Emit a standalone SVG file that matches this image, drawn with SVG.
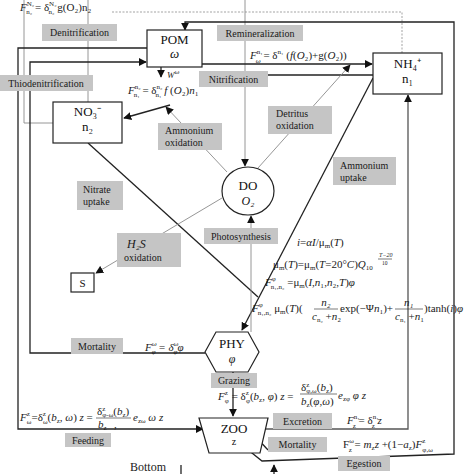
<svg xmlns="http://www.w3.org/2000/svg" width="474" height="474" viewBox="0 0 474 474">
<style>
.bg{fill:#fff}
.lb{fill:#c5c5c5}
.l{font-family:"Liberation Serif",serif;font-size:10px;fill:#1a1a1a}
.lc{text-anchor:middle}
.f{font-family:"Liberation Serif",serif;font-size:11px;fill:#1a1a1a}
.i{font-style:italic}
.sm{font-size:7px}
.n{font-family:"Liberation Serif",serif;font-size:13px;text-anchor:middle;fill:#111}
.box{fill:#fff;stroke:#222;stroke-width:1.2}
.k{fill:none;stroke:#222;stroke-width:1.3}
.k2{fill:none;stroke:#555;stroke-width:1.3}
.g{fill:none;stroke:#8a8a8a;stroke-width:0.9}
.d{fill:none;stroke:#999;stroke-width:0.9;stroke-dasharray:2 1.5}
.fl{stroke:#222;stroke-width:0.6}
</style>
<defs>
<marker id="ar" viewBox="0 0 10 10" refX="9" refY="5" markerUnits="userSpaceOnUse" markerWidth="8" markerHeight="8" orient="auto"><path d="M0,0 L10,5 L0,10 z" fill="#111"/></marker>
</defs>
<rect class="bg" x="0" y="0" width="474" height="474"/>

<g id="connectors">
<path class="g" d="M24,0 L24,123 L53,123"/>
<path class="g" d="M88,0 L88,102"/>
<path class="d" d="M112,12 L402,12 L402,53"/>
<path class="g" d="M245,0 L245,166" marker-end="url(#ar)"/>
<path class="k" d="M247,449 L262,461 L454,454 L454,22 L185,22 L185,30" marker-end="url(#ar)"/>
<path class="k" d="M255,436 L268,450"/>
<path class="k2" d="M265,429 L408,429 L408,95" marker-end="url(#ar)"/>
<path class="k" d="M147,48 L18,48 L18,429 L203,429" marker-end="url(#ar)"/>
<path class="k" d="M205,353 L30,353 L30,62 L146,62" marker-end="url(#ar)"/>
<path class="k" d="M233,372 L233,416" marker-end="url(#ar)"/>
<path class="k" d="M202,64 L372,64" marker-end="url(#ar)"/>
<path class="k" d="M373,75 L268,75"/>
<path class="k" d="M170,105 L124,118" marker-end="url(#ar)"/>
<path class="k" d="M161,67 L161,77" marker-end="url(#ar)"/>
<path class="k" d="M88,143 L258,297"/>
<path class="k" d="M373,78 L242,330" marker-end="url(#ar)"/>
<path class="g" d="M251,332 L251,216" marker-end="url(#ar)"/>
<path class="g" d="M227,172 L166,107" marker-end="url(#ar)"/>
<path class="g" d="M258,168 L350,65" marker-end="url(#ar)"/>
<path class="g" d="M222,198 L96,273" marker-end="url(#ar)"/>
<path class="k" d="M181,465 L181,474"/>
<path class="k" d="M274,474 L274,465" marker-end="url(#ar)"/>
</g>

<g id="labels">
<rect class="lb" x="42" y="24" width="75" height="17"/><text class="l lc" x="79.5" y="36">Denitrification</text>
<rect class="lb" x="0" y="75" width="93" height="16"/><text class="l lc" x="46" y="87">Thiodenitrification</text>
<rect class="lb" x="217" y="25" width="86" height="16"/><text class="l lc" x="260" y="37">Remineralization</text>
<rect class="lb" x="199" y="71" width="69" height="16"/><text class="l lc" x="233.5" y="83">Nitrification</text>
<rect class="lb" x="158" y="123" width="64" height="27"/><text class="l" x="165" y="134">Ammonium</text><text class="l" x="165" y="146">oxidation</text>
<rect class="lb" x="268" y="106" width="64" height="28"/><text class="l" x="276" y="117">Detritus</text><text class="l" x="276" y="129">oxidation</text>
<rect class="lb" x="77" y="181" width="46" height="29"/><text class="l" x="83" y="193">Nitrate</text><text class="l" x="83" y="205">uptake</text>
<rect class="lb" x="333" y="157" width="63" height="28"/><text class="l" x="340" y="169">Ammonium</text><text class="l" x="340" y="181">uptake</text>
<rect class="lb" x="117" y="233" width="64" height="34"/><text class="f i" x="127" y="248" style="font-size:12px">H₂S</text><text class="l" x="124" y="261">oxidation</text>
<rect class="lb" x="204" y="228" width="74" height="16"/><text class="l lc" x="241" y="240">Photosynthesis</text>
<rect class="lb" x="71" y="338" width="52" height="16"/><text class="l lc" x="97" y="350">Mortality</text>
<rect class="lb" x="211" y="373" width="46" height="15"/><text class="l lc" x="234" y="384">Grazing</text>
<rect class="lb" x="65" y="433" width="46" height="14"/><text class="l lc" x="88" y="444">Feeding</text>
<rect class="lb" x="273" y="413" width="59" height="16"/><text class="l lc" x="302.5" y="425">Excretion</text>
<rect class="lb" x="268" y="437" width="59" height="15"/><text class="l lc" x="297.5" y="448">Mortality</text>
<rect class="lb" x="338" y="456" width="52" height="15"/><text class="l lc" x="364" y="467">Egestion</text>
</g>

<g id="node-pom"><rect class="box" x="147" y="30" width="55" height="37"/><text class="n" x="174.5" y="44">POM</text><text class="n i" x="174.5" y="58">ω</text></g>
<g id="node-nh4"><rect class="box" x="373" y="53" width="69" height="41"/><text class="n" x="407.5" y="68">NH₄⁺</text><text class="n" x="407.5" y="83">n₁</text></g>
<g id="node-no3"><rect class="box" x="53" y="102" width="69" height="41"/><text class="n" x="87.5" y="116">NO₃⁻</text><text class="n" x="87.5" y="131">n₂</text></g>
<g id="node-do"><ellipse class="box" cx="248" cy="191" rx="26" ry="24"/><text class="n" x="248" y="190">DO</text><text class="n i" x="248" y="205" style="font-size:12px">O₂</text></g>
<g id="node-s"><rect class="box" x="71" y="273" width="23" height="19"/><text class="n" x="82.5" y="287" style="font-size:11px">S</text></g>
<g id="node-phy"><polygon class="box" points="205,352 216,332 248,332 259,352 248,372 216,372"/><text class="n" x="232" y="348">PHY</text><text class="n i" x="232" y="363" style="font-size:12px">φ</text></g>
<g id="node-zoo"><polygon class="box" points="199,418 268,418 260,453 209,453"/><text class="n" x="234" y="433">ZOO</text><text class="n" x="234" y="445" style="font-size:10px">z</text></g>

<g id="formulas">
<text class="f" x="20" y="11"><tspan class="i">F</tspan><tspan class="sm" dy="-5">N₂</tspan><tspan class="sm" dx="-8" dy="8">n₂</tspan><tspan dy="-3"> = δ</tspan><tspan class="sm" dy="-5">N₂</tspan><tspan class="sm" dx="-8" dy="8">n₂</tspan><tspan dy="-3"> g(O₂)n₂</tspan></text>
<text class="f" x="250" y="59"><tspan class="i">F</tspan><tspan class="sm" dy="-5">n₁</tspan><tspan class="sm i" dx="-7" dy="8.5">ω</tspan><tspan dy="-3.5"> = δ</tspan><tspan class="sm" dy="-5">n₁</tspan><tspan dy="5"> (<tspan class="i">f</tspan>(<tspan class="i">O</tspan>₂)+g(<tspan class="i">O</tspan>₂))</tspan></text>
<text class="f" x="128" y="94"><tspan class="i">F</tspan><tspan class="sm" dy="-5">n₂</tspan><tspan class="sm" dx="-7" dy="8">n₁</tspan><tspan dy="-3"> = δ</tspan><tspan class="sm" dy="-5">n₂</tspan><tspan class="sm" dx="-7" dy="8">n₁</tspan><tspan dy="-3">  <tspan class="i">f</tspan> (<tspan class="i">O</tspan>₂)<tspan class="i">n</tspan>₁</tspan></text>
<text class="f i" x="167" y="78" style="font-size:9px">W<tspan class="sm" dy="-4">ω</tspan></text>
<text class="f i" x="145" y="351"><tspan>F</tspan><tspan class="sm" dy="-5">ω</tspan><tspan class="sm" dx="-5" dy="8">φ</tspan><tspan dy="-3"> = δ</tspan><tspan class="sm" dy="-5">ω</tspan><tspan class="sm" dx="-5" dy="8">φ</tspan><tspan dy="-3">φ</tspan></text>

<text class="f" x="297" y="246"><tspan class="i">i</tspan>=<tspan class="i">αI</tspan>/μ<tspan class="sm" dy="2">m</tspan><tspan dy="-2">(<tspan class="i">T</tspan>)</tspan></text>
<text class="f" x="273" y="268">μ<tspan class="sm" dy="2">m</tspan><tspan dy="-2">(<tspan class="i">T</tspan>)=μ</tspan><tspan class="sm" dy="2">m</tspan><tspan dy="-2">(<tspan class="i">T</tspan>=20°<tspan class="i">C</tspan>)<tspan class="i">Q</tspan></tspan><tspan class="sm" dy="2">10</tspan></text>
<text class="f i" x="379" y="257" style="font-size:6px">T−20</text>
<line class="fl" x1="378" y1="259" x2="392" y2="259"/>
<text class="f" x="382" y="264.5" style="font-size:5.5px">10</text>
<text class="f" x="265" y="286"><tspan class="i">F</tspan><tspan class="sm" dy="-5">φ</tspan><tspan class="sm" dx="-5" dy="8">n₁,n₂</tspan><tspan dy="-3"> =μ</tspan><tspan class="sm" dy="2">m</tspan><tspan dy="-2">(<tspan class="i">I</tspan>,<tspan class="i">n</tspan>₁,<tspan class="i">n</tspan>₂,<tspan class="i">T</tspan>)<tspan class="i">φ</tspan></tspan></text>
<text class="f" x="252" y="312"><tspan class="i">F</tspan><tspan class="sm" dy="-5">φ</tspan><tspan class="sm" dx="-5" dy="8">n₁,n₂</tspan><tspan dy="-3">  μ</tspan><tspan class="sm" dy="2">m</tspan><tspan dy="-2">(<tspan class="i">T</tspan>)(</tspan></text>
<text class="f i lc" x="326" y="306">n₂</text>
<line class="fl" x1="314" y1="309" x2="338" y2="309"/>
<text class="f" x="312" y="320"><tspan class="i">c</tspan><tspan class="sm" dy="2">n₂</tspan><tspan dy="-2"> +<tspan class="i">n</tspan>₂</tspan></text>
<text class="f" x="340" y="312">exp(−Ψ<tspan class="i">n</tspan>₁)+</text>
<text class="f i" x="404" y="306">n₁</text>
<line class="fl" x1="395" y1="309" x2="423" y2="309"/>
<text class="f" x="395" y="320"><tspan class="i">c</tspan><tspan class="sm" dy="2">n₁</tspan><tspan dy="-2"> +<tspan class="i">n</tspan>₁</tspan></text>
<text class="f" x="424" y="312">)tanh(<tspan class="i">i</tspan>)<tspan class="i">φ</tspan></text>

<text class="f" x="218" y="400"><tspan class="i">F</tspan><tspan class="sm" dy="-5">z</tspan><tspan class="sm" dx="-3" dy="8">φ</tspan><tspan dy="-3"> = δ</tspan><tspan class="sm" dy="-5">z</tspan><tspan class="sm" dx="-3" dy="8">φ</tspan><tspan dy="-3">(<tspan class="i">b</tspan></tspan><tspan class="sm" dy="2">z</tspan><tspan dy="-2">, <tspan class="i">φ</tspan>) <tspan class="i">z</tspan> =</tspan></text>
<text class="f" x="301" y="391">δ<tspan class="sm" dy="-4">z</tspan><tspan class="sm" dx="-3" dy="6">φ,ω</tspan><tspan dy="-2">(<tspan class="i">b</tspan></tspan><tspan class="sm" dy="2">z</tspan><tspan dy="-2">)</tspan></text>
<line class="fl" x1="300" y1="394" x2="337" y2="394"/>
<text class="f" x="301" y="405"><tspan class="i">b</tspan><tspan class="sm" dy="2">z</tspan><tspan dy="-2">(<tspan class="i">φ</tspan>,<tspan class="i">ω</tspan>)</tspan></text>
<text class="f" x="338" y="399"><tspan class="i">e</tspan><tspan class="sm" dy="2">zφ</tspan><tspan dy="-2"> <tspan class="i">φ z</tspan></tspan></text>

<text class="f" x="20" y="421"><tspan class="i">F</tspan><tspan class="sm" dy="-5">z</tspan><tspan class="sm" dx="-3" dy="8">ω</tspan><tspan dy="-3">=δ</tspan><tspan class="sm" dy="-5">z</tspan><tspan class="sm" dx="-3" dy="8">ω</tspan><tspan dy="-3">(<tspan class="i">b</tspan></tspan><tspan class="sm" dy="2">z</tspan><tspan dy="-2">, <tspan class="i">ω</tspan>) <tspan class="i">z</tspan> =</tspan></text>
<text class="f" x="97" y="415">δ<tspan class="sm" dy="-4">z</tspan><tspan class="sm" dx="-3" dy="6">φ-ω</tspan><tspan dy="-2">(<tspan class="i">b</tspan></tspan><tspan class="sm" dy="2">z</tspan><tspan dy="-2">)</tspan></text>
<line class="fl" x1="96" y1="418" x2="131" y2="418"/>
<text class="f" x="98" y="428"><tspan class="i">b</tspan><tspan class="sm" dy="2">z</tspan></text>
<text class="f" x="114" y="428">,</text>
<text class="f" x="133" y="421"><tspan class="i">e</tspan><tspan class="sm" dy="2">zω</tspan><tspan dy="-2"> <tspan class="i">ω z</tspan></tspan></text>

<text class="f" x="347" y="424"><tspan class="i">F</tspan><tspan class="sm" dy="-5">n₁</tspan><tspan class="sm" dx="-7" dy="8.5">z</tspan><tspan dy="-3.5">   = δ</tspan><tspan class="sm" dy="-5">n₁</tspan><tspan class="sm" dx="-7" dy="8.5">z</tspan><tspan dy="-3.5">    <tspan class="i">z</tspan></tspan></text>
<text class="f" x="343" y="448">F<tspan class="sm" dy="-5">ω</tspan><tspan class="sm" dx="-5" dy="8.5">z</tspan><tspan dy="-3.5"> = <tspan class="i">m</tspan></tspan><tspan class="sm" dy="2">z</tspan><tspan dy="-2"><tspan class="i">z</tspan>  +(1−<tspan class="i">a</tspan></tspan><tspan class="sm" dy="2">z</tspan><tspan dy="-2">)<tspan class="i">F</tspan></tspan><tspan class="sm" dy="-5">z</tspan><tspan class="sm" dx="-3" dy="8.5">φ,ω</tspan></text>

<text class="f" x="130" y="471" style="font-size:12px">Bottom</text>
</g>
</svg>
